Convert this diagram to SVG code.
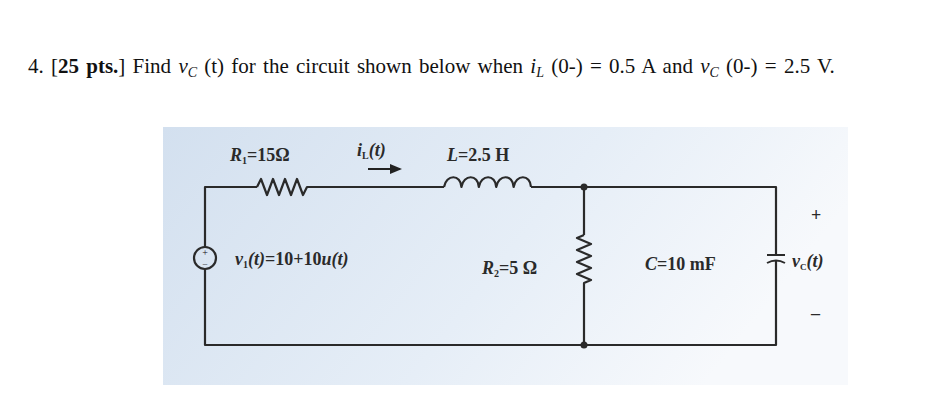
<svg xmlns="http://www.w3.org/2000/svg" width="944" height="414" viewBox="0 0 944 414">
<defs>
<linearGradient id="bg" x1="0" y1="0" x2="1" y2="0.3"><stop offset="0" stop-color="#d3e0ef"/><stop offset="0.6" stop-color="#e6eef7"/><stop offset="1" stop-color="#f7f9fc"/></linearGradient>
<marker id="ar" markerWidth="6" markerHeight="6" refX="5" refY="3" orient="auto"><path d="M0,0.5 L6,3 L0,5.5 Z" fill="#222"/></marker>
</defs>
<style>
.w{fill:none;stroke:#2a2a2a;stroke-width:2.2;stroke-linejoin:round}
.t{font-family:"Liberation Serif",serif;fill:#111}
.l{font-family:"Liberation Serif",serif;fill:#2a2a2a;font-size:18px;font-weight:bold}
</style>
<rect width="944" height="414" fill="#fff"/>
<text class="t" x="28" y="73" font-size="21" word-spacing="2">4.  [<tspan font-weight="bold">25 pts.</tspan>] Find <tspan font-style="italic">v</tspan><tspan font-style="italic" font-size="14" dy="4">C</tspan><tspan dy="-4"> (t) for the circuit shown below when </tspan><tspan font-style="italic">i</tspan><tspan font-style="italic" font-size="14" dy="4">L</tspan><tspan dy="-4"> (0-) = 0.5 A and </tspan><tspan font-style="italic">v</tspan><tspan font-style="italic" font-size="14" dy="4">C</tspan><tspan dy="-4"> (0-) = 2.5 V.</tspan></text>
<rect x="163" y="127" width="685" height="258" fill="url(#bg)"/>
<g id="connectors">
<path class="w" d="M257,187 H205 V247 M205,269 V345 H776 V261 M314,187 H444 M531,187 H776 V255 M584,187 V235 M584,290 V345"/>
</g>
<g id="source"><circle cx="205" cy="258" r="11" class="w"/><text x="205" y="256" font-size="10" text-anchor="middle" class="t">+</text><text x="205" y="266" font-size="9" text-anchor="middle" class="t">–</text>
<text class="l" x="235" y="265" font-style="italic">v<tspan font-size="10" dy="3" font-style="normal">1</tspan><tspan dy="-3">(t)</tspan><tspan font-style="normal">=10+10</tspan>u(t)</text></g>
<g id="R1"><path class="w" d="M257,187 l4,-8 l6,16 l6,-16 l6,16 l6,-16 l6,16 l6,-16 l6,16 l4,-8 l7,0"/><text class="l" x="230" y="161" font-style="italic">R<tspan font-size="10" dy="3" font-style="normal">1</tspan><tspan dy="-3" font-style="normal">=15Ω</tspan></text></g>
<g id="iL"><text class="l" x="357" y="156" font-style="italic" font-size="15">i<tspan font-size="10" dy="3" font-style="normal">L</tspan><tspan dy="-3">(t)</tspan></text><line x1="368" y1="169" x2="400" y2="169" stroke="#222" stroke-width="2" marker-end="url(#ar)"/></g>
<g id="L"><path class="w" d="M444,187 c2,-13 17,-13 17.4,0 c2,-13 17,-13 17.4,0 c2,-13 17,-13 17.4,0 c2,-13 17,-13 17.4,0 c2,-13 17,-13 17.4,0"/><text class="l" x="447" y="161" font-style="italic">L<tspan font-style="normal">=2.5 H</tspan></text></g>
<g id="R2"><path class="w" d="M584,235 l-7,3 l14,6 l-14,6 l14,6 l-14,6 l14,6 l-14,6 l14,6 l-7,3 V290"/><text class="l" x="482" y="274" font-style="italic">R<tspan font-size="10" dy="3" font-style="normal">2</tspan><tspan dy="-3" font-style="normal">=5 Ω</tspan></text></g>
<circle cx="584" cy="187" r="3.5" fill="#2a2a2a"/><circle cx="584" cy="345" r="3.5" fill="#2a2a2a"/>
<g id="C"><line x1="767" y1="255" x2="785" y2="255" stroke="#2a2a2a" stroke-width="2"/><path d="M767,263 Q776,258 785,263" fill="none" stroke="#2a2a2a" stroke-width="2"/><text class="l" x="645" y="270" font-style="italic">C<tspan font-style="normal">=10 mF</tspan></text>
<text class="l" x="792" y="267" font-style="italic" font-size="14">v<tspan font-size="9" dy="3" font-style="normal">C</tspan><tspan dy="-3">(t)</tspan></text><text class="l" x="811" y="221" font-size="13">+</text><text class="l" x="811" y="319" font-size="16">–</text></g>
</svg>
